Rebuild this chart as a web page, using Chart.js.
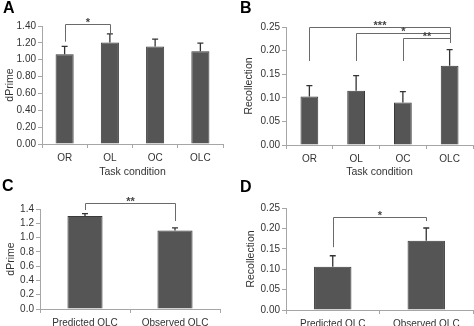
<!DOCTYPE html>
<html><head><meta charset="utf-8">
<script src="https://cdn.jsdelivr.net/npm/chart.js@4"></script>
<style>
html,body{margin:0;padding:0;background:#fff;}
#wrap{position:relative;width:474px;height:326px;overflow:hidden;background:#fff;}
canvas{position:absolute;}
.lbl{position:absolute;font:bold 16px "Liberation Sans",Arial,sans-serif;color:#000;line-height:16px;}
</style></head>
<body><div id="wrap">
<canvas id="cA" width="237" height="178" style="left:0;top:0"></canvas>
<canvas id="cB" width="237" height="178" style="left:237px;top:0"></canvas>
<canvas id="cC" width="237" height="148" style="left:0;top:178px"></canvas>
<canvas id="cD" width="237" height="148" style="left:237px;top:178px"></canvas>
<div class="lbl" style="left:3px;top:0px">A</div>
<div class="lbl" style="left:240px;top:0px">B</div>
<div class="lbl" style="left:2px;top:178px">C</div>
<div class="lbl" style="left:240px;top:179px">D</div>
</div>
<script>
// ---- data ----
const conditions = ['OR','OL','OC','OLC'];
const dPrimeA = [1.064, 1.205, 1.157, 1.100];
const dPrimeAErr = [0.095, 0.102, 0.088, 0.098];
const recollB = [0.103, 0.115, 0.090, 0.168];
const recollBErr = [0.023, 0.032, 0.023, 0.034];
const olcGroups = ['Predicted OLC','Observed OLC'];
const dPrimeC = [1.302, 1.100];
const dPrimeCErr = [0.032, 0.036];
const recollD = [0.106, 0.170];
const recollDErr = [0.027, 0.031];
const ticksA = [0,0.2,0.4,0.6,0.8,1.0,1.2,1.4];
const ticksB = [0,0.05,0.10,0.15,0.20,0.25];
// significance brackets: [fromIndex, toIndex, lineValue, leftLegBottom, rightLegBottom, stars]
const bracketsA = [[0,1,1.420,1.214,1.313,'*']];
const bracketsB = [[0,3,0.251,0.178,0.217,'***'],[1,3,0.238,0.178,0.217,'*'],[2,3,0.227,0.178,0.217,'**']];
const bracketsC = [[0,1,1.488,1.386,1.232,'**']];
const bracketsD = [[0,1,0.228,0.154,0.218,'*']];

const FONT = '"Liberation Sans", Arial, sans-serif';
const TXT = '#333';
const AXIS = '#a6a6a6';

const overlay = {
  id:'overlay',
  afterDatasetsDraw(chart, args, opts){
    const ctx = chart.ctx, x = chart.scales.x, y = chart.scales.y;
    const meta = chart.getDatasetMeta(0);
    const vals = chart.data.datasets[0].data;
    ctx.save();
    ctx.strokeStyle = '#333'; ctx.lineWidth = 1.3;
    opts.err.forEach((e,i)=>{
      const bx = meta.data[i].x;
      const y0 = y.getPixelForValue(vals[i]);
      const y1 = y.getPixelForValue(vals[i]+e);
      ctx.beginPath();
      ctx.moveTo(bx,y0); ctx.lineTo(bx,y1);
      ctx.moveTo(bx-3,y1); ctx.lineTo(bx+3,y1);
      ctx.stroke();
    });
    ctx.strokeStyle = '#6a6a6a'; ctx.lineWidth = 1;
    ctx.fillStyle = '#444';
    ctx.font = 'bold 11px ' + FONT;
    ctx.textAlign = 'center'; ctx.textBaseline = 'bottom';
    opts.brackets.forEach(b=>{
      const xa = Math.round(x.getPixelForValue(b[0]))+0.5;
      const xb = Math.round(x.getPixelForValue(b[1]))+0.5;
      const yl = Math.round(y.getPixelForValue(b[2]))+0.5;
      ctx.beginPath();
      ctx.moveTo(xa, y.getPixelForValue(b[3]));
      ctx.lineTo(xa, yl); ctx.lineTo(xb, yl);
      ctx.lineTo(xb, y.getPixelForValue(b[4]));
      ctx.stroke();
      ctx.fillText(b[5], (xa+xb)/2, yl+4);
    });
    ctx.restore();
  }
};

function makeChart(id, labels, values, err, brackets, box, yCfg, xTitle, yTitle, barPct){
  return new Chart(document.getElementById(id), {
    type:'bar',
    data:{labels, datasets:[{data:values, backgroundColor:'#555555', borderColor:'#3a3a3a', borderWidth:1,
      categoryPercentage:1, barPercentage:barPct}]},
    options:{
      responsive:false, animation:false, devicePixelRatio:1,
      layout:{padding:{left:0, top:box.top, right:box.right, bottom:0}},
      plugins:{legend:{display:false}, tooltip:{enabled:false}, overlay:{err, brackets}},
      scales:{
        x:{
          grid:{display:true, drawOnChartArea:false, offset:true, color:AXIS, tickLength:4},
          border:{color:AXIS, width:1},
          ticks:{color:TXT, font:{family:FONT, size:10}, padding:4, maxRotation:0, autoSkip:false},
          title:{display:!!xTitle, text:xTitle||'', color:TXT, font:{family:FONT, size:10.5}, padding:0},
          afterFit(s){ s.height = box.xh; }
        },
        y:{
          min:yCfg.min, max:yCfg.max,
          grid:{display:true, drawOnChartArea:false, color:AXIS, tickLength:4},
          border:{color:AXIS, width:1},
          afterBuildTicks(s){ s.ticks = yCfg.ticks.map(v=>({value:v})); },
          ticks:{color:TXT, font:{family:FONT, size:10}, padding:2, autoSkip:false,
            callback:(v)=>Number(v).toFixed(yCfg.dec)},
          title:{display:true, text:yTitle, color:TXT, font:{family:FONT, size:10.5}, padding:{top:box.ytp, bottom:0}},
          afterFit(s){ s.width = box.yw; }
        }
      }
    },
    plugins:[overlay]
  });
}

makeChart('cA', conditions, dPrimeA, dPrimeAErr, bracketsA,
  {top:26, right:14, xh:34, yw:42, ytp:4}, {min:0,max:1.4,ticks:ticksA,dec:2}, 'Task condition', 'dPrime', 0.4);
makeChart('cB', conditions, recollB, recollBErr, bracketsB,
  {top:27, right:1, xh:33, yw:49, ytp:6}, {min:0,max:0.25,ticks:ticksB,dec:2}, 'Task condition', 'Recollection', 0.38);
makeChart('cC', olcGroups, dPrimeC, dPrimeCErr, bracketsC,
  {top:31, right:17, xh:17, yw:40, ytp:5}, {min:0,max:1.4,ticks:ticksA,dec:1}, null, 'dPrime', 0.39);
makeChart('cD', olcGroups, recollD, recollDErr, bracketsD,
  {top:30, right:1, xh:16, yw:49, ytp:8}, {min:0,max:0.25,ticks:ticksB,dec:2}, null, 'Recollection', 0.4);
</script>
</body></html>
